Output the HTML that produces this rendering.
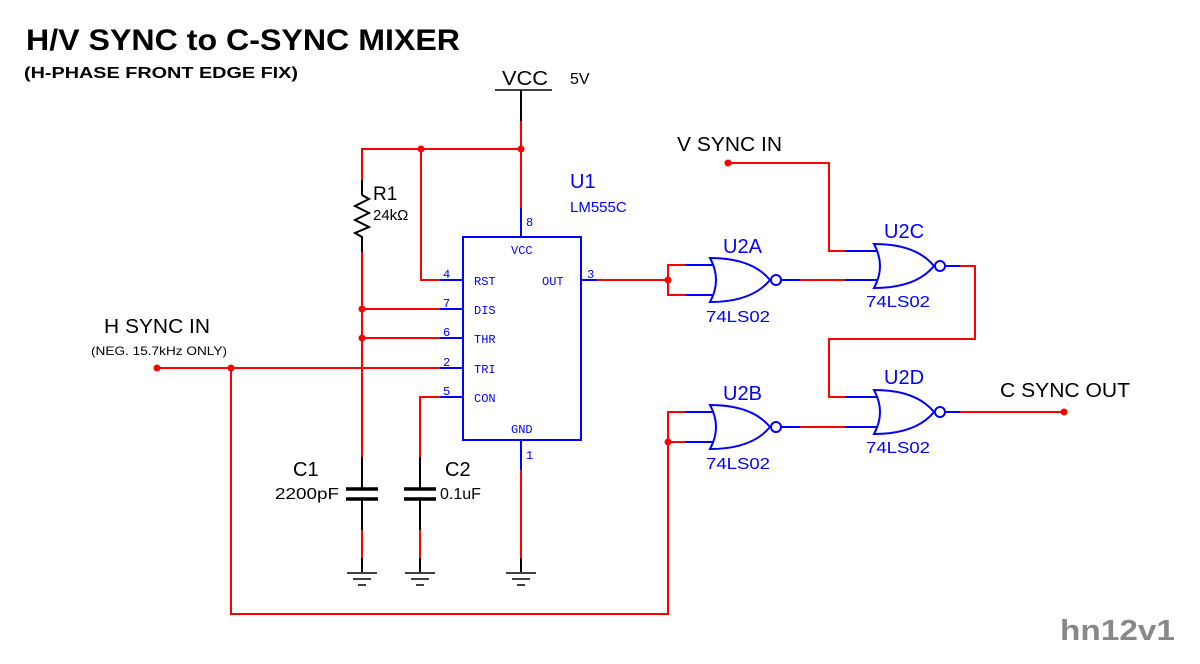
<!DOCTYPE html>
<html><head><style>
body{margin:0;background:#fff;}
svg{display:block;font-family:"Liberation Sans",Arial,sans-serif;}
.r{stroke:#f00;stroke-width:2;fill:none}
.b{stroke:#00f;stroke-width:2;fill:none}
.k{stroke:#000;stroke-width:2;fill:none}
.mono{font-family:"Liberation Mono",monospace;fill:#00f;font-size:12px}
</style></head><body>
<svg width="1200" height="664" viewBox="0 0 1200 664">
<text x="26" y="50" font-size="30" font-weight="bold" textLength="434" lengthAdjust="spacingAndGlyphs">H/V SYNC to C-SYNC MIXER</text>
<text x="24" y="78" font-size="16" font-weight="bold" textLength="274" lengthAdjust="spacingAndGlyphs">(H-PHASE FRONT EDGE FIX)</text>
<!-- VCC -->
<text x="502" y="85" font-size="20" textLength="46" lengthAdjust="spacingAndGlyphs">VCC</text>
<text x="570" y="84" font-size="16">5V</text>
<line x1="495" y1="90" x2="552" y2="90" stroke="#000" stroke-width="1.5"/>
<line x1="521" y1="90" x2="521" y2="121" class="k"/>
<polyline points="521,121 521,208" class="r"/>
<polyline points="362,180 362,149 521,149" class="r"/>
<polyline points="421,149 421,280 440,280" class="r"/>
<!-- R1 -->
<line x1="362" y1="180" x2="362" y2="195" class="k"/>
<polyline points="362,195 369,199 355,206 369,213 355,220 369,227 355,233 362,237 362,252" class="k"/>
<text x="373" y="200" font-size="19">R1</text>
<text x="373" y="220" font-size="15">24kΩ</text>
<line x1="362" y1="252" x2="362" y2="457" class="r"/>
<line x1="362" y1="309" x2="440" y2="309" class="r"/>
<line x1="362" y1="338" x2="440" y2="338" class="r"/>
<!-- 555 -->
<rect x="463" y="237" width="118" height="203" class="b"/>
<line x1="521" y1="208" x2="521" y2="237" class="b"/>
<line x1="440" y1="280" x2="463" y2="280" class="b"/>
<line x1="440" y1="309" x2="463" y2="309" class="b"/>
<line x1="440" y1="338" x2="463" y2="338" class="b"/>
<line x1="440" y1="368" x2="463" y2="368" class="b"/>
<line x1="440" y1="397" x2="463" y2="397" class="b"/>
<line x1="581" y1="280" x2="597" y2="280" class="b"/>
<line x1="521" y1="440" x2="521" y2="470" class="b"/>
<text x="526" y="226" class="mono">8</text>
<text x="443" y="278" class="mono">4</text>
<text x="443" y="307" class="mono">7</text>
<text x="443" y="336" class="mono">6</text>
<text x="443" y="366" class="mono">2</text>
<text x="443" y="395" class="mono">5</text>
<text x="587" y="278" class="mono">3</text>
<text x="526" y="459" class="mono">1</text>
<text x="511" y="254" class="mono">VCC</text>
<text x="474" y="285" class="mono">RST</text>
<text x="542" y="285" class="mono">OUT</text>
<text x="474" y="314" class="mono">DIS</text>
<text x="474" y="343" class="mono">THR</text>
<text x="474" y="373" class="mono">TRI</text>
<text x="474" y="402" class="mono">CON</text>
<text x="511" y="433" class="mono">GND</text>
<text x="570" y="188" font-size="20" fill="#00f">U1</text>
<text x="570" y="212" font-size="15" fill="#00f">LM555C</text>
<!-- H sync -->
<text x="104" y="333" font-size="20" textLength="106" lengthAdjust="spacingAndGlyphs">H SYNC IN</text>
<text x="91" y="355" font-size="12" textLength="136" lengthAdjust="spacingAndGlyphs">(NEG. 15.7kHz ONLY)</text>
<line x1="157" y1="368" x2="440" y2="368" class="r"/>
<polyline points="231,368 231,614 668,614 668,441" class="r"/>
<!-- CON -->
<polyline points="440,397 420,397 420,457" class="r"/>
<!-- caps -->
<g>
<line x1="362" y1="457" x2="362" y2="488" class="k"/>
<line x1="346" y1="489" x2="378" y2="489" stroke="#000" stroke-width="3.5"/>
<line x1="346" y1="499" x2="378" y2="499" stroke="#000" stroke-width="3.5"/>
<line x1="362" y1="499" x2="362" y2="530" class="k"/>
<line x1="362" y1="530" x2="362" y2="558" class="r"/>
<line x1="362" y1="558" x2="362" y2="572" class="k"/>
<line x1="420" y1="457" x2="420" y2="488" class="k"/>
<line x1="404" y1="489" x2="436" y2="489" stroke="#000" stroke-width="3.5"/>
<line x1="404" y1="499" x2="436" y2="499" stroke="#000" stroke-width="3.5"/>
<line x1="420" y1="499" x2="420" y2="530" class="k"/>
<line x1="420" y1="530" x2="420" y2="558" class="r"/>
<line x1="420" y1="558" x2="420" y2="572" class="k"/>
<line x1="521" y1="470" x2="521" y2="558" class="r"/>
<line x1="521" y1="558" x2="521" y2="572" class="k"/>
</g>
<g stroke="#000" stroke-width="1.5">
<line x1="347" y1="573" x2="377" y2="573"/><line x1="353" y1="579" x2="371" y2="579"/><line x1="358" y1="585" x2="366" y2="585"/>
<line x1="405" y1="573" x2="435" y2="573"/><line x1="411" y1="579" x2="429" y2="579"/><line x1="416" y1="585" x2="424" y2="585"/>
<line x1="506" y1="573" x2="536" y2="573"/><line x1="512" y1="579" x2="530" y2="579"/><line x1="517" y1="585" x2="525" y2="585"/>
</g>
<text x="293" y="476" font-size="20">C1</text>
<text x="275" y="499" font-size="16" textLength="64" lengthAdjust="spacingAndGlyphs">2200pF</text>
<text x="445" y="476" font-size="20">C2</text>
<text x="440" y="499" font-size="16">0.1uF</text>
<!-- wires to gates -->
<polyline points="597,280 668,280" class="r"/>
<polyline points="685,265 668,265 668,295 685,295" class="r"/>
<polyline points="685,412 668,412 668,442 685,442" class="r"/>
<line x1="800" y1="280" x2="845" y2="280" class="r"/>
<line x1="800" y1="427" x2="845" y2="427" class="r"/>
<polyline points="728,163 829,163 829,251 845,251" class="r"/>
<polyline points="960,266 975,266 975,339 829,339 829,397 845,397" class="r"/>
<line x1="960" y1="412" x2="1064" y2="412" class="r"/>
<text x="677" y="151" font-size="20" textLength="105" lengthAdjust="spacingAndGlyphs">V SYNC IN</text>
<text x="1000" y="397" font-size="20" textLength="130" lengthAdjust="spacingAndGlyphs">C SYNC OUT</text>
<!-- gates -->
<g class="b">
<path d="M685,265H714M685,295H714M710,258Q722,280 710,302Q752,302 770,280Q752,258 710,258Z M781,280H800"/>
<circle cx="776" cy="280" r="5"/>
<path d="M685,412H714M685,442H714M710,405Q722,427 710,449Q752,449 770,427Q752,405 710,405Z M781,427H800"/>
<circle cx="776" cy="427" r="5"/>
<path d="M845,251H878M845,280H878M874,244Q886,266 874,288Q916,288 934,266Q916,244 874,244Z M945,266H960"/>
<circle cx="940" cy="266" r="5"/>
<path d="M845,397H878M845,427H878M874,390Q886,412 874,434Q916,434 934,412Q916,390 874,390Z M945,412H960"/>
<circle cx="940" cy="412" r="5"/>
</g>
<g fill="#00f">
<text x="723" y="253" font-size="20">U2A</text>
<text x="706" y="322" font-size="16" textLength="64" lengthAdjust="spacingAndGlyphs">74LS02</text>
<text x="723" y="400" font-size="20">U2B</text>
<text x="706" y="469" font-size="16" textLength="64" lengthAdjust="spacingAndGlyphs">74LS02</text>
<text x="884" y="238" font-size="20">U2C</text>
<text x="866" y="307" font-size="16" textLength="64" lengthAdjust="spacingAndGlyphs">74LS02</text>
<text x="884" y="384" font-size="20">U2D</text>
<text x="866" y="453" font-size="16" textLength="64" lengthAdjust="spacingAndGlyphs">74LS02</text>
</g>
<g fill="#f00">
<circle cx="421" cy="149" r="3.5"/><circle cx="521" cy="149" r="3.5"/>
<circle cx="362" cy="309" r="3.5"/><circle cx="362" cy="338" r="3.5"/>
<circle cx="157" cy="368" r="3.5"/><circle cx="231" cy="368" r="3.5"/>
<circle cx="668" cy="280" r="3.5"/><circle cx="668" cy="442" r="3.5"/>
<circle cx="728" cy="163" r="3.5"/><circle cx="1064" cy="412" r="3.5"/>
</g>
<text x="1060" y="640" font-size="29" font-weight="bold" fill="#888" textLength="115" lengthAdjust="spacingAndGlyphs">hn12v1</text>
</svg>
</body></html>
